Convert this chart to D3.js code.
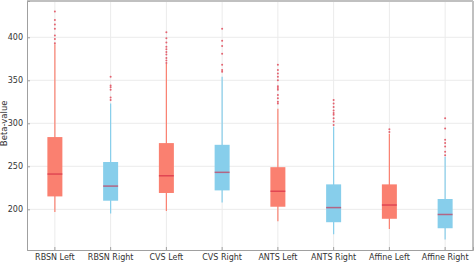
<!DOCTYPE html>
<html>
<head>
<meta charset="utf-8">
<script src="https://cdn.jsdelivr.net/npm/d3@7"></script>
<style>
  body { margin: 0; background: #fff; }
  text { font-family: "DejaVu Sans", sans-serif; }
</style>
</head>
<body>
<div id="chart"></div>
<script>
// data
const categories = ["RBSN Left", "RBSN Right", "CVS Left", "CVS Right", "ANTS Left", "ANTS Right", "Affine Left", "Affine Right"];
const sides = ["L", "R", "L", "R", "L", "R", "L", "R"];
const whiskerLow = [197, 195, 198, 208, 186, 171, 177, 165];
const q1 = [215, 210, 219, 222, 203, 185, 189, 178];
const medians = [241, 227, 239, 243, 221, 202, 205, 194];
const q3 = [284, 255, 277, 275, 249, 229, 229, 212];
const whiskerHigh = [392, 323, 369, 354, 317, 296, 288, 261];
const outliers = [
  [393, 398, 402, 410, 415, 420, 430],
  [327, 330, 339, 342, 344, 354],
  [370, 373, 376, 380, 383, 386, 389, 394, 399, 406],
  [360, 362, 368, 381, 390, 396, 410],
  [323, 325, 329, 333, 339, 341, 343, 350, 354, 358, 362, 368],
  [298, 302, 306, 310, 312, 315, 319, 323, 327],
  [290, 293],
  [263, 267, 273, 277, 281, 294, 306]
];
const yTicks = [200, 250, 300, 350, 400];

const margin = {top: 1, right: 1, bottom: 13, left: 27},
    width = 474 - margin.left - margin.right,
    height = 263 - margin.top - margin.bottom;

const fillColor = {L: "#fa8070", R: "#87ceeb"};

const svg = d3.select("#chart")
  .append("svg")
  .attr("width", width + margin.left + margin.right)
  .attr("height", height + margin.top + margin.bottom)
  .append("g")
  .attr("transform", `translate(${margin.left},${margin.top})`);

const x = d3.scaleBand()
  .domain(categories)
  .range([0, width]);

const y = d3.scaleLinear()
  .domain([152.7, 442.2])
  .range([height, 0]);

// grid
svg.append("g")
  .selectAll("line.h")
  .data(yTicks)
  .join("line")
  .attr("x1", 0).attr("x2", width)
  .attr("y1", d => y(d)).attr("y2", d => y(d))
  .attr("stroke", "#ebebeb");

svg.append("g")
  .selectAll("line.v")
  .data(categories)
  .join("line")
  .attr("x1", d => x(d) + x.bandwidth() / 2).attr("x2", d => x(d) + x.bandwidth() / 2)
  .attr("y1", 0).attr("y2", height)
  .attr("stroke", "#ebebeb");

// frame top/right
svg.append("line")
  .attr("x1", 0).attr("x2", width).attr("y1", 0).attr("y2", 0)
  .attr("stroke", "#c0c0c0").attr("stroke-width", 2);
svg.append("line")
  .attr("x1", width).attr("x2", width).attr("y1", 0).attr("y2", height)
  .attr("stroke", "#c0c0c0").attr("stroke-width", 2);

// axes
const yAxis = svg.append("g")
  .call(d3.axisLeft(y).tickValues(yTicks).tickSize(-3).tickPadding(4));
const xAxis = svg.append("g")
  .attr("transform", `translate(0, ${height})`)
  .call(d3.axisBottom(x).tickSize(-3).tickPadding(4));

[yAxis, xAxis].forEach(a => {
  a.select(".domain").attr("stroke", "#a0a0a0");
  a.selectAll(".tick line").attr("stroke", "#a0a0a0");
  a.selectAll("text").attr("fill", "#333").attr("font-size", 8);
});

svg.append("text")
  .attr("transform", `translate(${-20}, ${y(300)}) rotate(-90)`)
  .attr("text-anchor", "middle")
  .attr("font-size", 8.5)
  .attr("fill", "#333")
  .text("Beta-value");

// boxes
const boxW = 15;
const groups = svg.append("g")
  .selectAll("g")
  .data(categories)
  .join("g")
  .attr("transform", d => `translate(${x(d) + x.bandwidth() / 2},0)`);

groups.append("line")
  .attr("x1", 0).attr("x2", 0)
  .attr("y1", (d, i) => y(whiskerLow[i]))
  .attr("y2", (d, i) => y(whiskerHigh[i]))
  .attr("stroke", (d, i) => fillColor[sides[i]])
  .attr("stroke-width", 1.2);

groups.append("rect")
  .attr("x", -boxW / 2)
  .attr("width", boxW)
  .attr("y", (d, i) => y(q3[i]))
  .attr("height", (d, i) => y(q1[i]) - y(q3[i]))
  .attr("fill", (d, i) => fillColor[sides[i]]);

groups.append("line")
  .attr("x1", -boxW / 2).attr("x2", boxW / 2)
  .attr("y1", (d, i) => y(medians[i]))
  .attr("y2", (d, i) => y(medians[i]))
  .attr("stroke", "#d02040")
  .attr("stroke-opacity", 0.6)
  .attr("stroke-width", 1.5);

groups.each(function(d, i) {
  d3.select(this).selectAll("circle")
    .data(outliers[i])
    .join("circle")
    .attr("cx", 0)
    .attr("cy", v => y(v))
    .attr("r", 1)
    .attr("fill", "#e04050")
    .attr("opacity", 0.8);
});
</script>
</body>
</html>
